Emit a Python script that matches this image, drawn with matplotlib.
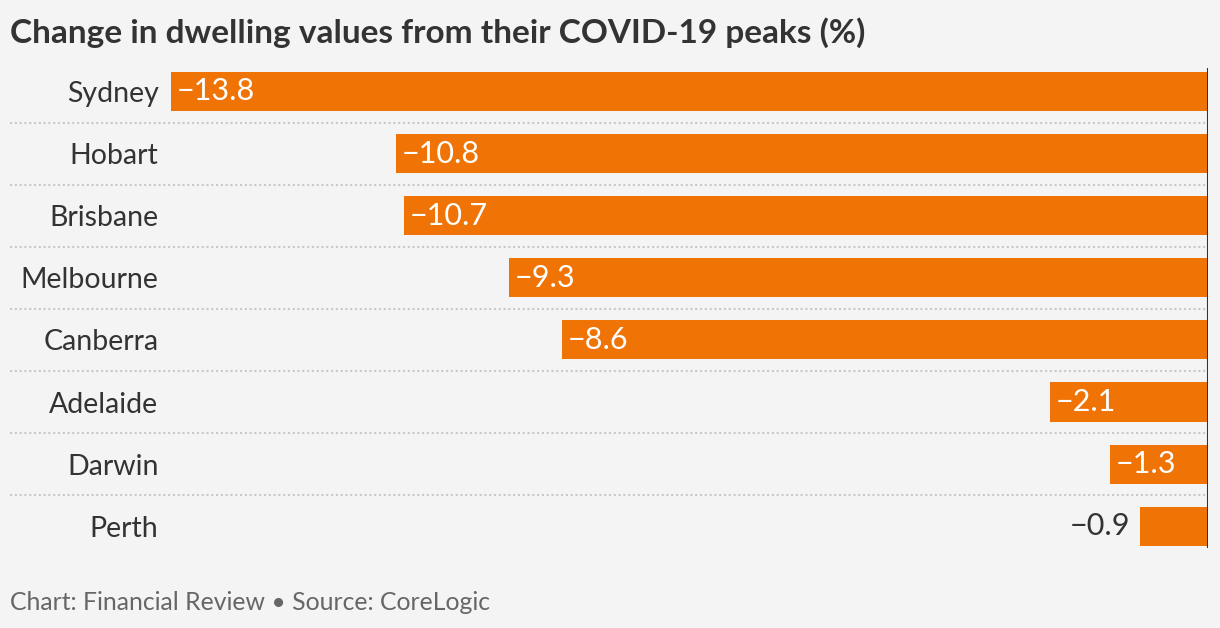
import matplotlib
matplotlib.use("Agg")
import matplotlib.pyplot as plt

cities = ["Sydney", "Hobart", "Brisbane", "Melbourne", "Canberra", "Adelaide", "Darwin", "Perth"]
changes = [-13.8, -10.8, -10.7, -9.3, -8.6, -2.1, -1.3, -0.9]
title = "Change in dwelling values from their COVID-19 peaks (%)"
footer = "Chart: Financial Review \u2022 Source: CoreLogic"

BG = "#f4f4f4"
ORANGE = "#f07305"
TEXT = "#333333"
FONT = "Lato"

plt.rcParams["font.family"] = [FONT, "DejaVu Sans"]

W, H = 1220, 628
fig = plt.figure(figsize=(W / 100, H / 100), dpi=100, facecolor=BG)
ax = fig.add_axes([171 / W, 1 - 548 / H, (1208 - 171) / W, (548 - 68) / H], facecolor=BG)

ypos = list(range(len(cities)))
ax.barh(ypos, changes, height=0.63, color=ORANGE, zorder=2)
ax.set_xlim(min(changes), 0)
ax.set_ylim(7.35, -0.378)

for s in ax.spines.values():
    s.set_visible(False)
ax.set_xticks([])
ax.set_yticks(ypos)
ax.set_yticklabels(cities, fontsize=20.5, color=TEXT)
ax.tick_params(axis="y", length=0, pad=9)

ax.axvline(0, color="#333333", lw=2.2, zorder=3)

for i in range(len(cities) - 1):
    ax.plot([-0.155, 1], [i + 0.5, i + 0.5], transform=ax.get_yaxis_transform(),
            clip_on=False, color="#c8c8c8", lw=1.5, ls=(0, (1, 1.3)), zorder=1)

for y, v in zip(ypos, changes):
    lab = f"{v:.1f}".replace("-", "\u2212")
    if v < -1.0:
        ax.annotate(lab, (v, y), xytext=(4, 0), textcoords="offset points",
                    ha="left", va="center", color="white", fontsize=22, zorder=4)
    else:
        ax.annotate(lab, (v, y), xytext=(-7, 0), textcoords="offset points",
                    ha="right", va="center", color=TEXT, fontsize=22, zorder=4)

fig.text(10 / W, 1 - 33 / H, title, fontsize=24, fontweight="bold", color=TEXT,
         ha="left", va="center")
fig.text(10 / W, 1 - 602 / H, footer, fontsize=17.8, color="#666666", ha="left", va="center")

fig.savefig("out.png", dpi=100, facecolor=BG)
